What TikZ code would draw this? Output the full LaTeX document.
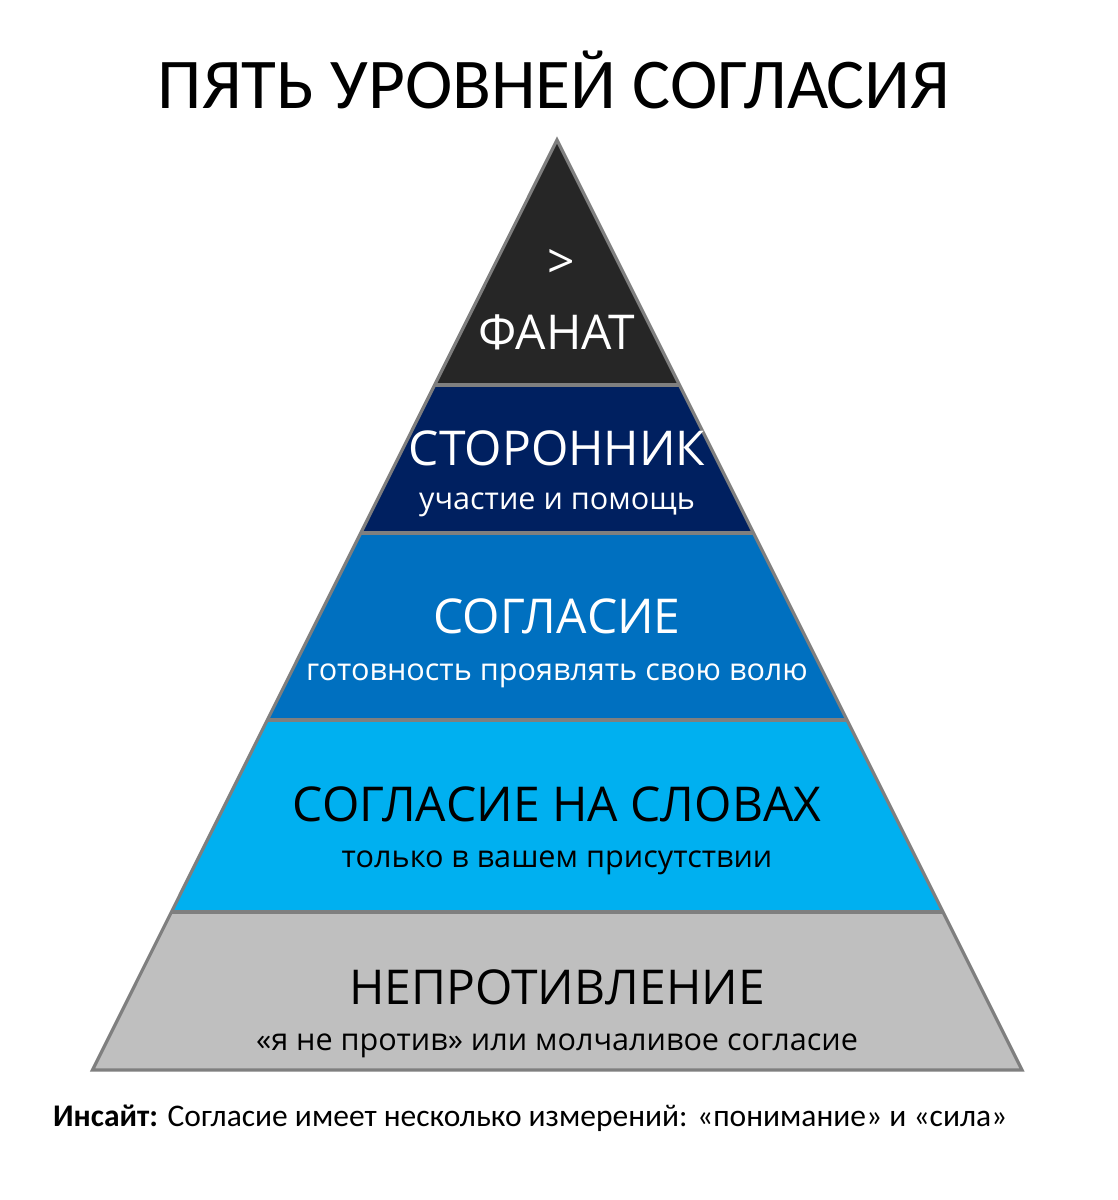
\documentclass[tikz,border=0pt]{standalone}
\usepackage{fontspec}
\setmainfont{Open Sans}
\newfontfamily\calfont{Carlito}
\definecolor{cTop}{HTML}{262626}
\definecolor{cNavy}{HTML}{002060}
\definecolor{cBlue}{HTML}{0070C0}
\definecolor{cCyan}{HTML}{00B0F0}
\definecolor{cGray}{HTML}{BFBFBF}
\definecolor{cEdge}{HTML}{7F7F7F}
\begin{document}
\begin{tikzpicture}[x=1pt,y=-1pt,
  band/.style={draw=cEdge,line width=3.2pt,line join=miter},
  head/.style={anchor=base,inner sep=0pt,font=\fontsize{48}{48}\selectfont},
  sub/.style={anchor=base,inner sep=0pt,font=\fontsize{30.6}{30.6}\selectfont}]
\useasboundingbox[fill=white] (0,0) rectangle (1117,1200);
% bands
\fill[cGray]  (92.5,1070) -- (171.4,912) -- (943,912) -- (1022,1070) -- cycle;
\fill[cCyan]  (171.4,912) -- (267.3,720) -- (847,720) -- (943,912) -- cycle;
\fill[cBlue]  (267.3,720) -- (360.7,533) -- (753.5,533) -- (847,720) -- cycle;
\fill[cNavy]  (360.7,533) -- (434.6,385) -- (679.5,385) -- (753.5,533) -- cycle;
\fill[cTop]   (434.6,385) -- (557,140) -- (679.5,385) -- cycle;
\draw[band] (434.6,385) -- (679.5,385);
\draw[band] (360.7,533) -- (753.5,533);
\draw[band] (267.3,720) -- (847,720);
\draw[band] (171.4,912) -- (943,912);
\draw[band] (92.5,1070) -- (557,140) -- (1022,1070) -- cycle;
% title
\node[anchor=base,inner sep=0pt,font=\calfont\fontsize{71.4}{71.4}\selectfont] (title) at (554,108) {ПЯТЬ УРОВНЕЙ СОГЛАСИЯ};
% texts
\node[head,text=white] (gt) at (561,278) {>};
\node[head,text=white] (fan) at (557,349) {ФАНАТ};
\node[head,text=white] (st) at (557,465) {СТОРОННИК};
\node[sub,text=white] (stsub) at (557,509) {участие и помощь};
\node[head,text=white] (sog) at (557,633) {СОГЛАСИЕ};
\node[sub,text=white] (sogsub) at (557,680) {готовность проявлять свою волю};
\node[head,text=black] (sl) at (557,821) {СОГЛАСИЕ НА СЛОВАХ};
\node[sub,text=black] (slsub) at (557,867) {только в вашем присутствии};
\node[head,text=black] (np) at (557,1004) {НЕПРОТИВЛЕНИЕ};
\node[sub,text=black] (npsub) at (557,1050) {«я не против» или молчаливое согласие};
% footer
\node[anchor=base west,inner sep=0pt,font=\calfont\fontsize{31.5}{31.5}\selectfont] (foot) at (53,1126) {\textbf{Инсайт:} Согласие имеет несколько измерений: «понимание» и «сила»};
\end{tikzpicture}
\end{document}
